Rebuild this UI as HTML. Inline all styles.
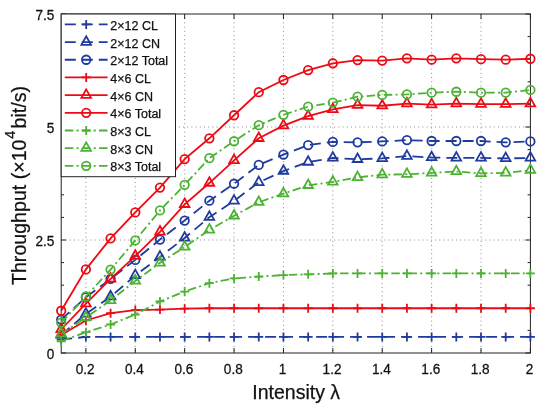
<!DOCTYPE html>
<html><head><meta charset="utf-8"><style>
html,body{margin:0;padding:0;background:#fff;width:550px;height:413px;overflow:hidden}
svg{display:block}
text{font-family:"Liberation Sans",Arial,sans-serif;fill:#111;stroke:#111;stroke-width:0.25px}
.lg{font-size:12.5px}
.tk{font-size:13.6px}
.al{font-size:19.5px}
.yl{font-size:19.6px}
</style></head><body>
<svg width="550" height="413" viewBox="0 0 550 413">
<path d="M85.89 14V353M135.28 14V353M184.67 14V353M234.06 14V353M283.45 14V353M332.84 14V353M382.23 14V353M431.62 14V353M481.01 14V353M61.2 240H530.4M61.2 127H530.4" stroke="#8c8c8c" stroke-width="1" stroke-dasharray="1 3.2" fill="none"/>
<path d="M85.89 353v-5M85.89 14v5M135.28 353v-5M135.28 14v5M184.67 353v-5M184.67 14v5M234.06 353v-5M234.06 14v5M283.45 353v-5M283.45 14v5M332.84 353v-5M332.84 14v5M382.23 353v-5M382.23 14v5M431.62 353v-5M431.62 14v5M481.01 353v-5M481.01 14v5M530.4 353v-5M530.4 14v5M61.2 353h5M530.4 353h-5M61.2 330.4h2.8M530.4 330.4h-2.8M61.2 307.8h2.8M530.4 307.8h-2.8M61.2 285.2h2.8M530.4 285.2h-2.8M61.2 262.6h2.8M530.4 262.6h-2.8M61.2 240h5M530.4 240h-5M61.2 217.4h2.8M530.4 217.4h-2.8M61.2 194.8h2.8M530.4 194.8h-2.8M61.2 172.2h2.8M530.4 172.2h-2.8M61.2 149.6h2.8M530.4 149.6h-2.8M61.2 127h5M530.4 127h-5M61.2 104.4h2.8M530.4 104.4h-2.8M61.2 81.8h2.8M530.4 81.8h-2.8M61.2 59.2h2.8M530.4 59.2h-2.8M61.2 36.6h2.8M530.4 36.6h-2.8M61.2 14h5M530.4 14h-5" stroke="#222" stroke-width="1" fill="none"/>
<rect x="61.2" y="14" width="469.2" height="339" fill="none" stroke="#222" stroke-width="1"/>
<g stroke="#1f3b9e" stroke-width="1.8" fill="none"><polyline points="61.2,339.44 85.89,336.95 110.59,336.95 135.28,336.95 159.98,336.95 184.67,336.95 209.37,336.95 234.06,336.95 258.76,336.95 283.45,336.95 308.15,336.95 332.84,336.95 357.54,336.95 382.23,336.95 406.93,336.95 431.62,336.95 456.32,336.95 481.01,336.95 505.71,336.95 530.4,336.95" stroke-dasharray="11 6"/>
<path d="M56.7 339.44H65.7M61.2 334.94V343.94"/><path d="M81.39 336.95H90.39M85.89 332.45V341.45"/><path d="M106.09 336.95H115.09M110.59 332.45V341.45"/><path d="M130.78 336.95H139.78M135.28 332.45V341.45"/><path d="M155.48 336.95H164.48M159.98 332.45V341.45"/><path d="M180.17 336.95H189.17M184.67 332.45V341.45"/><path d="M204.87 336.95H213.87M209.37 332.45V341.45"/><path d="M229.56 336.95H238.56M234.06 332.45V341.45"/><path d="M254.26 336.95H263.26M258.76 332.45V341.45"/><path d="M278.95 336.95H287.95M283.45 332.45V341.45"/><path d="M303.65 336.95H312.65M308.15 332.45V341.45"/><path d="M328.34 336.95H337.34M332.84 332.45V341.45"/><path d="M353.04 336.95H362.04M357.54 332.45V341.45"/><path d="M377.73 336.95H386.73M382.23 332.45V341.45"/><path d="M402.43 336.95H411.43M406.93 332.45V341.45"/><path d="M427.12 336.95H436.12M431.62 332.45V341.45"/><path d="M451.82 336.95H460.82M456.32 332.45V341.45"/><path d="M476.51 336.95H485.51M481.01 332.45V341.45"/><path d="M501.21 336.95H510.21M505.71 332.45V341.45"/><path d="M525.9 336.95H534.9M530.4 332.45V341.45"/>
</g>
<g stroke="#1f3b9e" stroke-width="1.8" fill="none"><polyline points="61.2,334.92 85.89,313.9 110.59,296.73 135.28,275.48 159.98,256.95 184.67,237.97 209.37,217.17 234.06,200.9 258.76,182.37 283.45,171.07 308.15,162.03 332.84,157.96 357.54,159.32 382.23,158.41 406.93,156.15 431.62,157.51 456.32,157.96 481.01,157.96 505.71,158.41 530.4,157.96" stroke-dasharray="11 6"/>
<path d="M61.2 329.12L66 337.62H56.4Z"/><path d="M85.89 308.1L90.69 316.6H81.09Z"/><path d="M110.59 290.93L115.39 299.43H105.79Z"/><path d="M135.28 269.68L140.08 278.18H130.48Z"/><path d="M159.98 251.15L164.78 259.65H155.18Z"/><path d="M184.67 232.17L189.47 240.67H179.87Z"/><path d="M209.37 211.37L214.17 219.87H204.57Z"/><path d="M234.06 195.1L238.86 203.6H229.26Z"/><path d="M258.76 176.57L263.56 185.07H253.96Z"/><path d="M283.45 165.27L288.25 173.77H278.65Z"/><path d="M308.15 156.23L312.95 164.73H303.35Z"/><path d="M332.84 152.16L337.64 160.66H328.04Z"/><path d="M357.54 153.52L362.34 162.02H352.74Z"/><path d="M382.23 152.61L387.03 161.11H377.43Z"/><path d="M406.93 150.35L411.73 158.85H402.13Z"/><path d="M431.62 151.71L436.42 160.21H426.82Z"/><path d="M456.32 152.16L461.12 160.66H451.52Z"/><path d="M481.01 152.16L485.81 160.66H476.21Z"/><path d="M505.71 152.61L510.51 161.11H500.91Z"/><path d="M530.4 152.16L535.2 160.66H525.6Z"/>
</g>
<g stroke="#1f3b9e" stroke-width="1.8" fill="none"><polyline points="61.2,319.55 85.89,297.4 110.59,278.87 135.28,259.89 159.98,239.55 184.67,220.56 209.37,200.68 234.06,183.73 258.76,164.97 283.45,154.57 308.15,145.08 332.84,141.92 357.54,142.37 382.23,141.46 406.93,140.11 431.62,141.01 456.32,141.01 481.01,141.01 505.71,142.37 530.4,141.46" stroke-dasharray="11 6"/>
<circle cx="61.2" cy="319.55" r="4.25"/><circle cx="85.89" cy="297.4" r="4.25"/><circle cx="110.59" cy="278.87" r="4.25"/><circle cx="135.28" cy="259.89" r="4.25"/><circle cx="159.98" cy="239.55" r="4.25"/><circle cx="184.67" cy="220.56" r="4.25"/><circle cx="209.37" cy="200.68" r="4.25"/><circle cx="234.06" cy="183.73" r="4.25"/><circle cx="258.76" cy="164.97" r="4.25"/><circle cx="283.45" cy="154.57" r="4.25"/><circle cx="308.15" cy="145.08" r="4.25"/><circle cx="332.84" cy="141.92" r="4.25"/><circle cx="357.54" cy="142.37" r="4.25"/><circle cx="382.23" cy="141.46" r="4.25"/><circle cx="406.93" cy="140.11" r="4.25"/><circle cx="431.62" cy="141.01" r="4.25"/><circle cx="456.32" cy="141.01" r="4.25"/><circle cx="481.01" cy="141.01" r="4.25"/><circle cx="505.71" cy="142.37" r="4.25"/><circle cx="530.4" cy="141.46" r="4.25"/>
</g>
<g stroke="#ee0a14" stroke-width="1.8" fill="none"><polyline points="61.2,334.92 85.89,320.46 110.59,313.22 135.28,310.06 159.98,309.61 184.67,308.7 209.37,308.25 234.06,308.25 258.76,308.25 283.45,308.25 308.15,308.25 332.84,308.25 357.54,308.25 382.23,308.25 406.93,308.25 431.62,308.25 456.32,308.25 481.01,308.25 505.71,308.25 530.4,308.25"/>
<path d="M56.7 334.92H65.7M61.2 330.42V339.42"/><path d="M81.39 320.46H90.39M85.89 315.96V324.96"/><path d="M106.09 313.22H115.09M110.59 308.72V317.72"/><path d="M130.78 310.06H139.78M135.28 305.56V314.56"/><path d="M155.48 309.61H164.48M159.98 305.11V314.11"/><path d="M180.17 308.7H189.17M184.67 304.2V313.2"/><path d="M204.87 308.25H213.87M209.37 303.75V312.75"/><path d="M229.56 308.25H238.56M234.06 303.75V312.75"/><path d="M254.26 308.25H263.26M258.76 303.75V312.75"/><path d="M278.95 308.25H287.95M283.45 303.75V312.75"/><path d="M303.65 308.25H312.65M308.15 303.75V312.75"/><path d="M328.34 308.25H337.34M332.84 303.75V312.75"/><path d="M353.04 308.25H362.04M357.54 303.75V312.75"/><path d="M377.73 308.25H386.73M382.23 303.75V312.75"/><path d="M402.43 308.25H411.43M406.93 303.75V312.75"/><path d="M427.12 308.25H436.12M431.62 303.75V312.75"/><path d="M451.82 308.25H460.82M456.32 303.75V312.75"/><path d="M476.51 308.25H485.51M481.01 303.75V312.75"/><path d="M501.21 308.25H510.21M505.71 303.75V312.75"/><path d="M525.9 308.25H534.9M530.4 303.75V312.75"/>
</g>
<g stroke="#ee0a14" stroke-width="1.8" fill="none"><polyline points="61.2,329.5 85.89,303.73 110.59,278.87 135.28,256.05 159.98,231.86 184.67,204.29 209.37,183.05 234.06,160.45 258.76,138.3 283.45,125.64 308.15,116.15 332.84,109.37 357.54,105.08 382.23,105.76 406.93,103.72 431.62,104.63 456.32,103.72 481.01,104.17 505.71,104.17 530.4,103.72"/>
<path d="M61.2 323.7L66 332.2H56.4Z"/><path d="M85.89 297.93L90.69 306.43H81.09Z"/><path d="M110.59 273.07L115.39 281.57H105.79Z"/><path d="M135.28 250.25L140.08 258.75H130.48Z"/><path d="M159.98 226.06L164.78 234.56H155.18Z"/><path d="M184.67 198.49L189.47 206.99H179.87Z"/><path d="M209.37 177.25L214.17 185.75H204.57Z"/><path d="M234.06 154.65L238.86 163.15H229.26Z"/><path d="M258.76 132.5L263.56 141H253.96Z"/><path d="M283.45 119.84L288.25 128.34H278.65Z"/><path d="M308.15 110.35L312.95 118.85H303.35Z"/><path d="M332.84 103.57L337.64 112.07H328.04Z"/><path d="M357.54 99.28L362.34 107.78H352.74Z"/><path d="M382.23 99.96L387.03 108.46H377.43Z"/><path d="M406.93 97.92L411.73 106.42H402.13Z"/><path d="M431.62 98.83L436.42 107.33H426.82Z"/><path d="M456.32 97.92L461.12 106.42H451.52Z"/><path d="M481.01 98.37L485.81 106.87H476.21Z"/><path d="M505.71 98.37L510.51 106.87H500.91Z"/><path d="M530.4 97.92L535.2 106.42H525.6Z"/>
</g>
<g stroke="#ee0a14" stroke-width="1.8" fill="none"><polyline points="61.2,310.74 85.89,269.38 110.59,238.42 135.28,212.43 159.98,187.57 184.67,159.09 209.37,138.3 234.06,115.25 258.76,92.2 283.45,79.99 308.15,70.05 332.84,63.27 357.54,60.1 382.23,60.56 406.93,58.3 431.62,59.65 456.32,58.3 481.01,59.2 505.71,59.65 530.4,58.75"/>
<circle cx="61.2" cy="310.74" r="4.25"/><circle cx="85.89" cy="269.38" r="4.25"/><circle cx="110.59" cy="238.42" r="4.25"/><circle cx="135.28" cy="212.43" r="4.25"/><circle cx="159.98" cy="187.57" r="4.25"/><circle cx="184.67" cy="159.09" r="4.25"/><circle cx="209.37" cy="138.3" r="4.25"/><circle cx="234.06" cy="115.25" r="4.25"/><circle cx="258.76" cy="92.2" r="4.25"/><circle cx="283.45" cy="79.99" r="4.25"/><circle cx="308.15" cy="70.05" r="4.25"/><circle cx="332.84" cy="63.27" r="4.25"/><circle cx="357.54" cy="60.1" r="4.25"/><circle cx="382.23" cy="60.56" r="4.25"/><circle cx="406.93" cy="58.3" r="4.25"/><circle cx="431.62" cy="59.65" r="4.25"/><circle cx="456.32" cy="58.3" r="4.25"/><circle cx="481.01" cy="59.2" r="4.25"/><circle cx="505.71" cy="59.65" r="4.25"/><circle cx="530.4" cy="58.75" r="4.25"/>
</g>
<g stroke="#4cb233" stroke-width="1.8" fill="none"><polyline points="61.2,341.25 85.89,332.21 110.59,324.52 135.28,314.58 159.98,301.47 184.67,291.53 209.37,283.17 234.06,278.42 258.76,276.61 283.45,275.03 308.15,274.35 332.84,273.45 357.54,273.45 382.23,273.45 406.93,273.45 431.62,273.45 456.32,273.45 481.01,273.45 505.71,273.45 530.4,273.45" stroke-dasharray="8.5 3.3 2 3.3"/>
<path d="M56.7 341.25H65.7M61.2 336.75V345.75"/><path d="M81.39 332.21H90.39M85.89 327.71V336.71"/><path d="M106.09 324.52H115.09M110.59 320.02V329.02"/><path d="M130.78 314.58H139.78M135.28 310.08V319.08"/><path d="M155.48 301.47H164.48M159.98 296.97V305.97"/><path d="M180.17 291.53H189.17M184.67 287.03V296.03"/><path d="M204.87 283.17H213.87M209.37 278.67V287.67"/><path d="M229.56 278.42H238.56M234.06 273.92V282.92"/><path d="M254.26 276.61H263.26M258.76 272.11V281.11"/><path d="M278.95 275.03H287.95M283.45 270.53V279.53"/><path d="M303.65 274.35H312.65M308.15 269.85V278.85"/><path d="M328.34 273.45H337.34M332.84 268.95V277.95"/><path d="M353.04 273.45H362.04M357.54 268.95V277.95"/><path d="M377.73 273.45H386.73M382.23 268.95V277.95"/><path d="M402.43 273.45H411.43M406.93 268.95V277.95"/><path d="M427.12 273.45H436.12M431.62 268.95V277.95"/><path d="M451.82 273.45H460.82M456.32 268.95V277.95"/><path d="M476.51 273.45H485.51M481.01 268.95V277.95"/><path d="M501.21 273.45H510.21M505.71 268.95V277.95"/><path d="M525.9 273.45H534.9M530.4 268.95V277.95"/>
</g>
<g stroke="#4cb233" stroke-width="1.8" fill="none"><polyline points="61.2,334.02 85.89,317.52 110.59,300.34 135.28,280.91 159.98,262.83 184.67,247.01 209.37,229.83 234.06,215.82 258.76,202.26 283.45,193.67 308.15,185.31 332.84,181.92 357.54,177.4 382.23,174.69 406.93,174.23 431.62,172.88 456.32,171.52 481.01,173.33 505.71,172.88 530.4,170.17" stroke-dasharray="8.5 3.3 2 3.3"/>
<path d="M61.2 328.22L66 336.72H56.4Z"/><path d="M85.89 311.72L90.69 320.22H81.09Z"/><path d="M110.59 294.54L115.39 303.04H105.79Z"/><path d="M135.28 275.11L140.08 283.61H130.48Z"/><path d="M159.98 257.03L164.78 265.53H155.18Z"/><path d="M184.67 241.21L189.47 249.71H179.87Z"/><path d="M209.37 224.03L214.17 232.53H204.57Z"/><path d="M234.06 210.02L238.86 218.52H229.26Z"/><path d="M258.76 196.46L263.56 204.96H253.96Z"/><path d="M283.45 187.87L288.25 196.37H278.65Z"/><path d="M308.15 179.51L312.95 188.01H303.35Z"/><path d="M332.84 176.12L337.64 184.62H328.04Z"/><path d="M357.54 171.6L362.34 180.1H352.74Z"/><path d="M382.23 168.89L387.03 177.39H377.43Z"/><path d="M406.93 168.43L411.73 176.93H402.13Z"/><path d="M431.62 167.08L436.42 175.58H426.82Z"/><path d="M456.32 165.72L461.12 174.22H451.52Z"/><path d="M481.01 167.53L485.81 176.03H476.21Z"/><path d="M505.71 167.08L510.51 175.58H500.91Z"/><path d="M530.4 164.37L535.2 172.87H525.6Z"/>
</g>
<g stroke="#4cb233" stroke-width="1.8" fill="none"><polyline points="61.2,322.72 85.89,296.5 110.59,269.61 135.28,240.45 159.98,210.39 184.67,184.86 209.37,158.19 234.06,141.24 258.76,125.19 283.45,114.8 308.15,106.66 332.84,102.59 357.54,96.72 382.23,94.91 406.93,94.46 431.62,92.65 456.32,91.74 481.01,92.65 505.71,92.65 530.4,89.94" stroke-dasharray="8.5 3.3 2 3.3"/>
<circle cx="61.2" cy="322.72" r="4.25"/><circle cx="85.89" cy="296.5" r="4.25"/><circle cx="110.59" cy="269.61" r="4.25"/><circle cx="135.28" cy="240.45" r="4.25"/><circle cx="159.98" cy="210.39" r="4.25"/><circle cx="184.67" cy="184.86" r="4.25"/><circle cx="209.37" cy="158.19" r="4.25"/><circle cx="234.06" cy="141.24" r="4.25"/><circle cx="258.76" cy="125.19" r="4.25"/><circle cx="283.45" cy="114.8" r="4.25"/><circle cx="308.15" cy="106.66" r="4.25"/><circle cx="332.84" cy="102.59" r="4.25"/><circle cx="357.54" cy="96.72" r="4.25"/><circle cx="382.23" cy="94.91" r="4.25"/><circle cx="406.93" cy="94.46" r="4.25"/><circle cx="431.62" cy="92.65" r="4.25"/><circle cx="456.32" cy="91.74" r="4.25"/><circle cx="481.01" cy="92.65" r="4.25"/><circle cx="505.71" cy="92.65" r="4.25"/><circle cx="530.4" cy="89.94" r="4.25"/>
</g>
<rect x="61.2" y="14" width="114.3" height="162.7" fill="#fff" stroke="#222" stroke-width="1"/>
<g stroke="#1f3b9e" stroke-width="1.8" fill="none"><path d="M64.8 24.4H107.6" stroke-dasharray="11 6"/><path d="M81.7 24.4H90.7M86.2 19.9V28.9"/></g>
<text x="110.3" y="30" class="lg">2×12 CL</text>
<g stroke="#1f3b9e" stroke-width="1.8" fill="none"><path d="M64.8 42.08H107.6" stroke-dasharray="11 6"/><path d="M86.2 36.28L91 44.78H81.4Z"/></g>
<text x="110.3" y="47.68" class="lg">2×12 CN</text>
<g stroke="#1f3b9e" stroke-width="1.8" fill="none"><path d="M64.8 59.76H107.6" stroke-dasharray="11 6"/><circle cx="86.2" cy="59.76" r="4.25"/></g>
<text x="110.3" y="65.36" class="lg">2×12 Total</text>
<g stroke="#ee0a14" stroke-width="1.8" fill="none"><path d="M64.8 77.44H107.6"/><path d="M81.7 77.44H90.7M86.2 72.94V81.94"/></g>
<text x="110.3" y="83.04" class="lg">4×6 CL</text>
<g stroke="#ee0a14" stroke-width="1.8" fill="none"><path d="M64.8 95.12H107.6"/><path d="M86.2 89.32L91 97.82H81.4Z"/></g>
<text x="110.3" y="100.72" class="lg">4×6 CN</text>
<g stroke="#ee0a14" stroke-width="1.8" fill="none"><path d="M64.8 112.8H107.6"/><circle cx="86.2" cy="112.8" r="4.25"/></g>
<text x="110.3" y="118.4" class="lg">4×6 Total</text>
<g stroke="#4cb233" stroke-width="1.8" fill="none"><path d="M64.8 130.48H107.6" stroke-dasharray="8.5 3.3 2 3.3"/><path d="M81.7 130.48H90.7M86.2 125.98V134.98"/></g>
<text x="110.3" y="136.08" class="lg">8×3 CL</text>
<g stroke="#4cb233" stroke-width="1.8" fill="none"><path d="M64.8 148.16H107.6" stroke-dasharray="8.5 3.3 2 3.3"/><path d="M86.2 142.36L91 150.86H81.4Z"/></g>
<text x="110.3" y="153.76" class="lg">8×3 CN</text>
<g stroke="#4cb233" stroke-width="1.8" fill="none"><path d="M64.8 165.84H107.6" stroke-dasharray="8.5 3.3 2 3.3"/><circle cx="86.2" cy="165.84" r="4.25"/></g>
<text x="110.3" y="171.44" class="lg">8×3 Total</text>
<text transform="translate(85.09,373.7) scale(1,1.07)" class="tk" text-anchor="middle">0.2</text>
<text transform="translate(134.48,373.7) scale(1,1.07)" class="tk" text-anchor="middle">0.4</text>
<text transform="translate(183.87,373.7) scale(1,1.07)" class="tk" text-anchor="middle">0.6</text>
<text transform="translate(233.26,373.7) scale(1,1.07)" class="tk" text-anchor="middle">0.8</text>
<text transform="translate(282.65,373.7) scale(1,1.07)" class="tk" text-anchor="middle">1</text>
<text transform="translate(332.04,373.7) scale(1,1.07)" class="tk" text-anchor="middle">1.2</text>
<text transform="translate(381.43,373.7) scale(1,1.07)" class="tk" text-anchor="middle">1.4</text>
<text transform="translate(430.82,373.7) scale(1,1.07)" class="tk" text-anchor="middle">1.6</text>
<text transform="translate(480.21,373.7) scale(1,1.07)" class="tk" text-anchor="middle">1.8</text>
<text transform="translate(529.6,373.7) scale(1,1.07)" class="tk" text-anchor="middle">2</text>
<text transform="translate(54.4,358.6) scale(1,1.07)" class="tk" text-anchor="end">0</text>
<text transform="translate(54.4,245.6) scale(1,1.07)" class="tk" text-anchor="end">2.5</text>
<text transform="translate(54.4,132.6) scale(1,1.07)" class="tk" text-anchor="end">5</text>
<text transform="translate(54.4,19.6) scale(1,1.07)" class="tk" text-anchor="end">7.5</text>
<text x="296.2" y="398.6" class="al" text-anchor="middle">Intensity λ</text>
<text transform="translate(26.3,285) rotate(-90)" class="yl"><tspan x="0">Throughput (×10</tspan><tspan x="146.2" dy="-11" font-size="14.5">4</tspan><tspan x="156.6" dy="11">bit/s)</tspan></text>
</svg>
</body></html>
